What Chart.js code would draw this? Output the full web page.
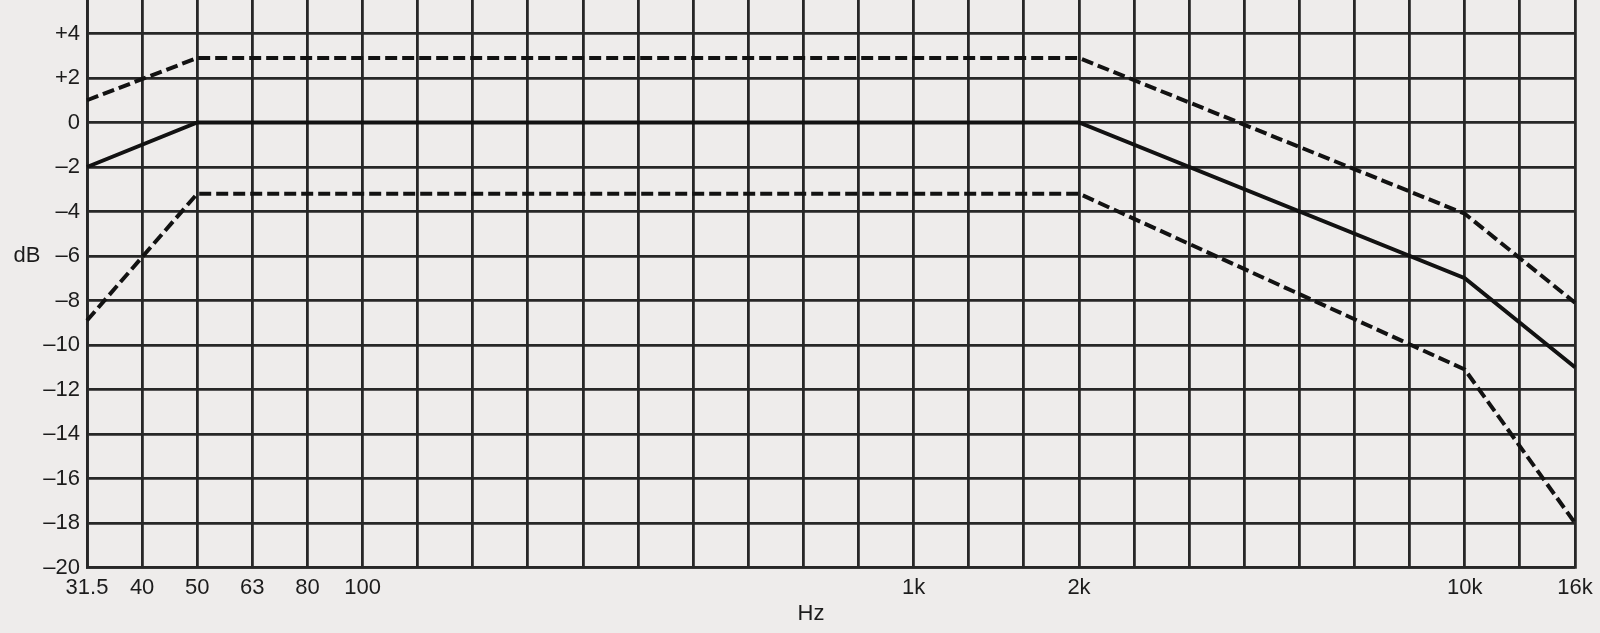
<!DOCTYPE html>
<html><head><meta charset="utf-8">
<script src="https://cdn.jsdelivr.net/npm/chart.js@4.4.1/dist/chart.umd.min.js"></script>
<style>
html,body{margin:0;padding:0;background:#eeeceb;overflow:hidden;width:1600px;height:633px;}
#wrap{position:absolute;left:0;top:-41.5px;width:1600px;height:674.5px;}
</style></head><body>
<div id="wrap"><canvas id="c"></canvas></div>
<script>
// Third-octave band centre frequencies (category axis)
const bands = ['31.5','40','50','63','80','100','125','160','200','250','315','400','500','630','800','1k','1.25k','1.6k','2k','2.5k','3.15k','4k','5k','6.3k','8k','10k','12.5k','16k'];
// Bands that carry a printed label
const labelledBands = ['31.5','40','50','63','80','100','1k','2k','10k','16k'];
// Breakpoints of the curves
const breakBands = ['31.5','50','2k','10k','16k'];
const nominalDb = [-2, 0, 0, -7, -11];
const upperDb   = [1, 2.9, 2.9, -4.1, -8.1];
const lowerDb   = [-8.9, -3.2, -3.2, -11.1, -18];
// y axis
const yMin = -20, yMax = 6, yStep = 2;
const yTitle = 'dB', xTitle = 'Hz';

const FONT = '"Liberation Sans", Arial, Helvetica, sans-serif';
const INK = '#1c1c1c';
const GRID = '#272727';

function pts(vals){ return breakBands.map((b,i)=>({x:b, y:vals[i]})); }
function fmtDb(v){ if (v > 0) return '+' + v; if (v < 0) return '\u2013' + Math.abs(v); return '0'; }

const axisTitles = {
  id: 'axisTitles',
  afterDraw(chart){
    const {ctx, chartArea, scales} = chart;
    ctx.save();
    ctx.font = '22px ' + FONT;
    ctx.fillStyle = INK;
    ctx.textAlign = 'center';
    ctx.textBaseline = 'middle';
    ctx.fillText(yTitle, chartArea.left - 60, scales.y.getPixelForValue(-6));
    ctx.fillText(xTitle, (chartArea.left + chartArea.right) / 2 - 20, chartArea.bottom + 46);
    ctx.restore();
  }
};

const lineStyle = {borderColor:'#121212', borderWidth:4, pointRadius:0, tension:0, fill:false, borderCapStyle:'butt', borderJoinStyle:'miter'};

new Chart(document.getElementById('c'), {
  type: 'line',
  data: {
    labels: bands,
    datasets: [
      Object.assign({label:'Upper limit', data: pts(upperDb), borderDash:[12,5]}, lineStyle),
      Object.assign({label:'Nominal', data: pts(nominalDb)}, lineStyle),
      Object.assign({label:'Lower limit', data: pts(lowerDb), borderDash:[12,5]}, lineStyle)
    ]
  },
  options: {
    animation: false,
    responsive: true,
    maintainAspectRatio: false,
    layout: {padding: {top: 30, left: 36.3, right: 25, bottom: 26}},
    plugins: {legend:{display:false}, tooltip:{enabled:false}},
    scales: {
      x: {
        type: 'category',
        offset: false,
        grid: {color: GRID, lineWidth: 2.8, drawTicks: false},
        border: {display: true, color: GRID, width: 2.8},
        ticks: {
          autoSkip: false, maxRotation: 0, minRotation: 0, padding: 6.8,
          color: INK, font: {family: FONT, size: 22},
          callback(value){ const l = bands[value]; return labelledBands.includes(l) ? l : ''; }
        }
      },
      y: {
        min: yMin, max: yMax,
        grid: {color: GRID, lineWidth: 2.8, drawTicks: false},
        border: {display: true, color: GRID, width: 2.8},
        ticks: {stepSize: yStep, padding: 7, color: INK, font: {family: FONT, size: 22}, callback: v => fmtDb(v)}
      }
    }
  },
  plugins: [axisTitles]
});
</script>
</body></html>
